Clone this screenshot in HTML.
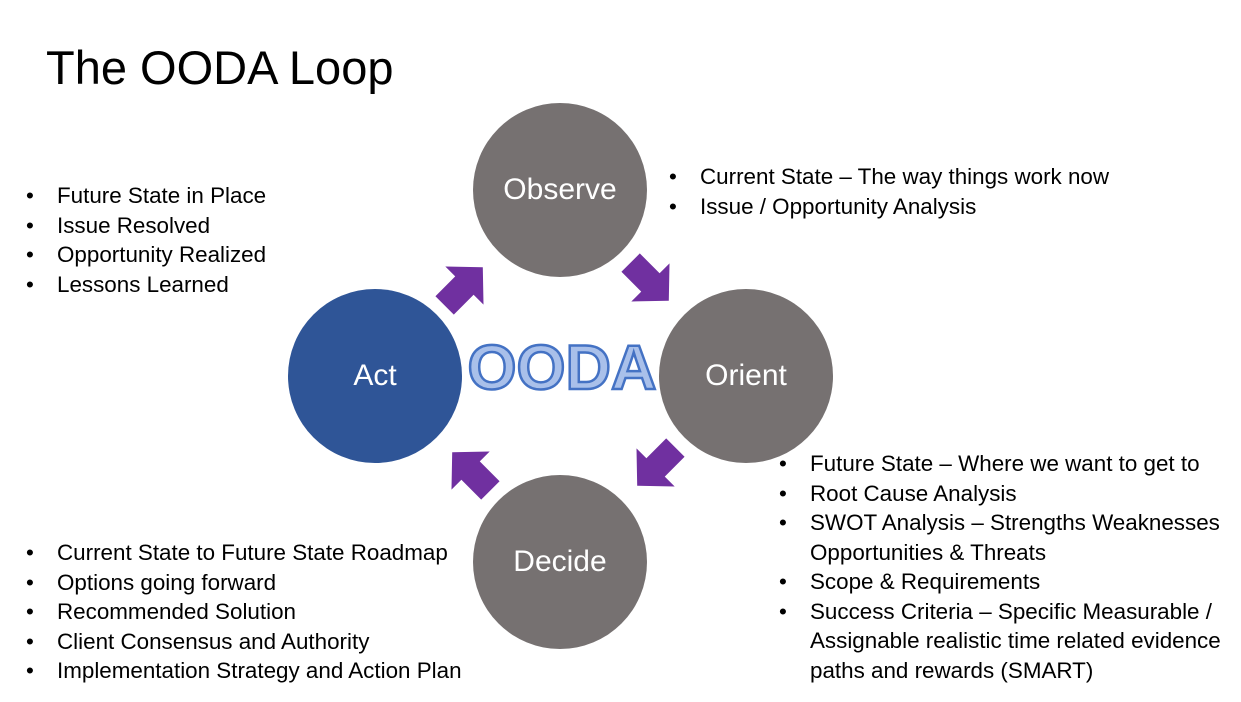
<!DOCTYPE html>
<html><head><meta charset="utf-8"><style>
body{margin:0;width:1241px;height:702px;background:#fff;position:relative;overflow:hidden;font-family:"Liberation Sans",sans-serif;}
.t{position:absolute;left:46px;top:40px;font-size:47px;color:#000;}
.c{position:absolute;width:174px;height:174px;border-radius:50%;background:#767171;color:#fff;font-size:30px;display:flex;align-items:center;justify-content:center;}
ul{position:absolute;margin:0;padding:0;list-style:none;font-size:22.4px;line-height:29.5px;color:#000;}
li{position:relative;padding-left:31px;}
li:before{content:"•";position:absolute;left:0;}
</style></head><body>
<div class="t">The OODA Loop</div>
<div class="c" style="left:473px;top:103px">Observe</div>
<div class="c" style="left:659px;top:289px">Orient</div>
<div class="c" style="left:473px;top:475px">Decide</div>
<div class="c" style="left:288px;top:289px;background:#2F5597">Act</div>
<svg width="1241" height="702" style="position:absolute;left:0;top:0">
<defs><polygon id="a" points="-26,-13 2,-13 2,-27 28,0 2,27 2,13 -26,13" fill="#7030A0"/></defs>
<use href="#a" transform="translate(463,287) rotate(-45)"/>
<use href="#a" transform="translate(649,281) rotate(45)"/>
<use href="#a" transform="translate(657,466) rotate(135)"/>
<use href="#a" transform="translate(472,472) rotate(-135)"/>
<text x="562" y="389" text-anchor="middle" font-family="Liberation Sans" font-weight="bold" font-size="63" fill="#A9C0EA" stroke="#4472C4" stroke-width="2.5">OODA</text>
</svg>
<ul style="left:669px;top:162px"><li>Current State – The way things work now</li><li>Issue / Opportunity Analysis</li></ul>
<ul style="left:26px;top:181px"><li>Future State in Place</li><li>Issue Resolved</li><li>Opportunity Realized</li><li>Lessons Learned</li></ul>
<ul style="left:779px;top:449px;width:450px"><li>Future State – Where we want to get to</li><li>Root Cause Analysis</li><li>SWOT Analysis – Strengths Weaknesses Opportunities &amp; Threats</li><li>Scope &amp; Requirements</li><li>Success Criteria – Specific Measurable / Assignable realistic time related evidence paths and rewards (SMART)</li></ul>
<ul style="left:26px;top:538px"><li>Current State to Future State Roadmap</li><li>Options going forward</li><li>Recommended Solution</li><li>Client Consensus and Authority</li><li>Implementation Strategy and Action Plan</li></ul>
</body></html>
